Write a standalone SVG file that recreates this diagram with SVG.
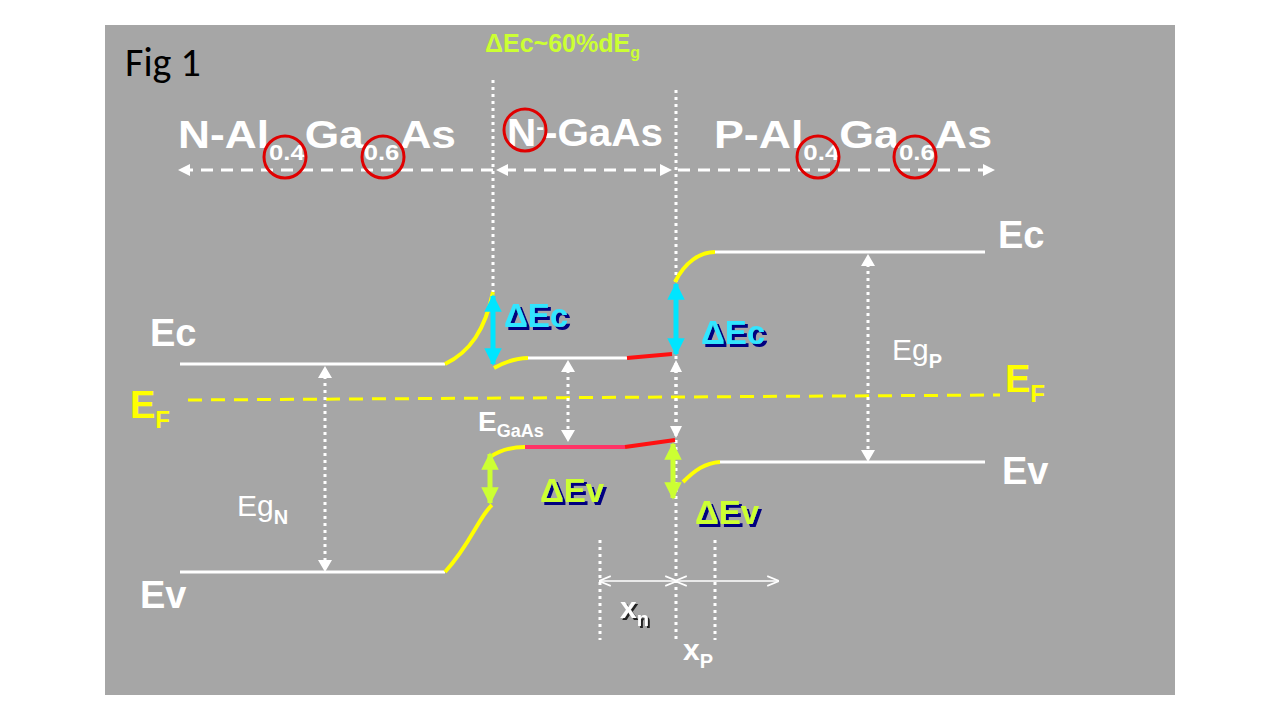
<svg xmlns="http://www.w3.org/2000/svg" width="1280" height="720" viewBox="0 0 1280 720">
<defs>
<style>
.t{font-family:"Liberation Sans",Arial,sans-serif;font-weight:bold;fill:#fff}
.w{stroke:#fff;stroke-width:3;fill:none}
.y{stroke:#ffff00;stroke-width:4;fill:none}
.dot{stroke:#fff;stroke-width:3;stroke-dasharray:3 4;fill:none}
.rc{stroke:#e00000;stroke-width:3;fill:none}
.ah{fill:#fff}
</style>
<filter id="navy" x="-10%" y="-20%" width="130%" height="150%"><feDropShadow dx="3" dy="3" stdDeviation="0" flood-color="#000080"/></filter>
<filter id="dk" x="-10%" y="-20%" width="130%" height="150%"><feDropShadow dx="2" dy="2" stdDeviation="0" flood-color="#222"/></filter>
<marker id="ca" viewBox="0 0 10 10" refX="9" refY="5" markerWidth="3.5" markerHeight="3.5" orient="auto-start-reverse"><path d="M0,0L10,5L0,10z" fill="#00e5ff"/></marker>
<marker id="la" viewBox="0 0 10 10" refX="9" refY="5" markerWidth="3.5" markerHeight="3.5" orient="auto-start-reverse"><path d="M0,0L10,5L0,10z" fill="#ccff33"/></marker>
<marker id="sa" viewBox="0 0 10 10" refX="9" refY="5" markerWidth="8" markerHeight="8" orient="auto-start-reverse"><path d="M0,1L10,5L0,9" fill="none" stroke="#fff" stroke-width="1.5"/></marker>
</defs>
<rect x="0" y="0" width="1280" height="720" fill="#fff"/>
<rect x="105" y="25" width="1070" height="670" fill="#a6a6a6"/>
<g id="connectors">
<path class="dot" d="M493,80V292M676,90V640M600,540V640M715,540V640"/>
<path d="M493,170H186" stroke="#fff" stroke-width="3" stroke-dasharray="12 8"/>
<path class="ah" d="M178,170l12,-6v12z"/>
<path d="M504,170H664" stroke="#fff" stroke-width="3" stroke-dasharray="12 8"/>
<path class="ah" d="M496,170l12,-6v12zM672,170l-12,-6v12z"/>
<path d="M678,170H986" stroke="#fff" stroke-width="3" stroke-dasharray="12 8"/>
<path class="ah" d="M995,170l-12,-6v12z"/>
<path class="w" d="M180,364H445M180,572H445M528,358H627M715,252H985M720,462H985"/>
<path class="y" d="M445,364C470,352 485,330 493,292M445,572C470,545 480,515 492,505M494,368C505,362 515,358 528,358M490,457C500,450 512,447 525,447M675,282C685,262 700,252 715,252M683,482C695,470 705,463 720,462"/>
<path d="M627,358L672,354" stroke="#ff1010" stroke-width="4"/>
<path d="M525,447H625" stroke="#ff3366" stroke-width="4"/>
<path d="M625,447L675,440" stroke="#ff1010" stroke-width="4"/>
<path d="M188,400L1000,395" stroke="#ffff00" stroke-width="3" stroke-dasharray="14 9"/>
<path class="dot" d="M325,376V562M568,370V432M676,370V428M868,264V452"/>
<path class="ah" d="M325,366l-7,12h14zM325,572l-7,-12h14zM568,360l-7,12h14zM568,442l-7,-12h14zM676,360l-6,12h12zM676,438l-6,-12h12zM868,254l-7,12h14zM868,462l-7,-12h14z"/>
<path d="M493,296V364" stroke="#00e5ff" stroke-width="5" marker-start="url(#ca)" marker-end="url(#ca)"/>
<path d="M676,284V354" stroke="#00e5ff" stroke-width="5" marker-start="url(#ca)" marker-end="url(#ca)"/>
<path d="M490,454V503" stroke="#ccff33" stroke-width="5" marker-start="url(#la)" marker-end="url(#la)"/>
<path d="M673,444V498" stroke="#ccff33" stroke-width="5" marker-start="url(#la)" marker-end="url(#la)"/>
<path d="M600,581H676" stroke="#fff" stroke-width="1.5" marker-start="url(#sa)" marker-end="url(#sa)"/>
<path d="M676,581H778" stroke="#fff" stroke-width="1.5" marker-start="url(#sa)" marker-end="url(#sa)"/>
</g>
<g id="labels">
<text x="125" y="76" font-family="Carlito,Calibri,'Liberation Sans',sans-serif" font-size="40" fill="#000">Fig 1</text>
<text x="485" y="52" class="t" font-size="25" style="fill:#ccff33">ΔEc~60%dE<tspan font-size="16" dy="6">g</tspan></text>
<text x="178" y="148" class="t" font-size="38" textLength="278" lengthAdjust="spacingAndGlyphs">N-Al<tspan font-size="22" dy="12">0.4</tspan><tspan dy="-12">Ga</tspan><tspan font-size="22" dy="12">0.6</tspan><tspan dy="-12">As</tspan></text>
<text x="507" y="146" class="t" font-size="38" textLength="156" lengthAdjust="spacingAndGlyphs">N<tspan font-size="22" dy="-12">-</tspan><tspan dy="12">-GaAs</tspan></text>
<text x="714" y="148" class="t" font-size="38" textLength="278" lengthAdjust="spacingAndGlyphs">P-Al<tspan font-size="22" dy="12">0.4</tspan><tspan dy="-12">Ga</tspan><tspan font-size="22" dy="12">0.6</tspan><tspan dy="-12">As</tspan></text>
<text x="150" y="346" class="t" font-size="38">Ec</text>
<text x="998" y="248" class="t" font-size="38">Ec</text>
<text x="1002" y="484" class="t" font-size="38">Ev</text>
<text x="140" y="608" class="t" font-size="38">Ev</text>
<text x="130" y="418" class="t" font-size="38" style="fill:#ffff00">E<tspan font-size="24" dy="10">F</tspan></text>
<text x="1005" y="392" class="t" font-size="38" style="fill:#ffff00">E<tspan font-size="24" dy="10">F</tspan></text>
<text x="237" y="516" font-family="Liberation Sans,Arial,sans-serif" font-size="30" fill="#fff">Eg<tspan font-size="20" dy="8" font-weight="bold">N</tspan></text>
<text x="892" y="360" font-family="Liberation Sans,Arial,sans-serif" font-size="30" fill="#fff">Eg<tspan font-size="20" dy="8" font-weight="bold">P</tspan></text>
<text x="478" y="431" class="t" font-size="28">E<tspan font-size="18" dy="6">GaAs</tspan></text>
<g class="t" font-size="33" filter="url(#navy)">
<text x="504" y="327" style="fill:#33e5ff">ΔEc</text>
<text x="701" y="344" style="fill:#33e5ff">ΔEc</text>
<text x="540" y="502" style="fill:#ccff33">ΔEv</text>
<text x="695" y="524" style="fill:#ccff33">ΔEv</text>
</g>
<text x="620" y="618" class="t" font-size="30" filter="url(#dk)">x<tspan font-size="20" dy="8">n</tspan></text>
<text x="683" y="660" class="t" font-size="30">x<tspan font-size="20" dy="8">P</tspan></text>
</g>
<g id="circles">
<circle class="rc" cx="285" cy="157" r="21"/>
<circle class="rc" cx="383" cy="157" r="21"/>
<circle class="rc" cx="525" cy="130" r="21"/>
<circle class="rc" cx="818" cy="157" r="21"/>
<circle class="rc" cx="915" cy="157" r="21"/>
</g>
</svg>
